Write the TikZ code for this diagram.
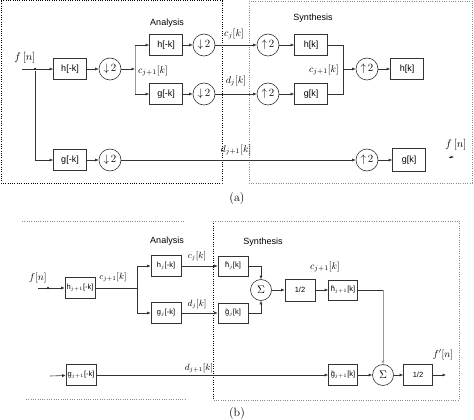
\documentclass[tikz,border=0pt]{standalone}
\usepackage{fontspec}
\newfontfamily\boxfont{Liberation Sans}
\usetikzlibrary{arrows.meta}
\begin{document}
\begin{tikzpicture}[x=1pt,y=-1pt,
 line width=0.6pt, draw=black!80,
 arr/.style={-{Latex[length=3.5pt,width=3pt]}},
 blk/.style={draw=black!80, minimum width=33pt, minimum height=21pt, inner sep=0pt, font=\boxfont\fontsize{9}{9}\selectfont},
 blkb/.style={blk, minimum width=30pt, font=\boxfont\fontsize{7.5}{7.5}\selectfont},
 crc/.style={draw=black!80, circle, minimum size=22pt, inner sep=0pt, font=\fontsize{11}{11}\selectfont},
 sumc/.style={crc, minimum size=21pt},
 lab/.style={font=\fontsize{10}{10}\selectfont, inner sep=1pt},
 labb/.style={font=\fontsize{9}{9}\selectfont, inner sep=1pt},
 ttl/.style={font=\boxfont\fontsize{9}{9}\selectfont},
 frA/.style={draw=black, line width=1pt, dash pattern=on 1pt off 1.3pt},
 frB/.style={draw=black!45, line width=0.8pt, dash pattern=on 1pt off 1.3pt},
 lite/.style={draw=black!40},
 jdot/.style={circle, fill=black, inner sep=0pt, minimum size=2.5pt}
]
\useasboundingbox (0,0) rectangle (474,420);

% ---------------- (a) ----------------
\draw[frA] (1,1) rectangle (222,183);
\draw[frB] (249,1) rectangle (472,183);
\node[ttl] (tA) at (167,23) {Analysis};
\node[ttl] (tS) at (313,18) {Synthesis};
\node[lab, font=\fontsize{11}{11}\selectfont] (fn) at (25,58) {$f\,[n]$};
\coordinate (in) at (22,69);
\node[jdot] (j1) at (35,69) {};
\node[blk] (hA1) at (70,69) {h[-k]};
\node[crc] (dA1) at (110,69) {$\downarrow$\,2};
\coordinate (br) at (135,69);
\coordinate (brT) at (135,45);
\coordinate (brB) at (135,94);
\node[lab] (cA) at (153,71) {$c_{j+1}[k]$};
\node[blk] (hA2) at (166,45) {h[-k]};
\node[blk] (gA2) at (166,94) {g[-k]};
\node[crc] (dA2) at (204,45) {$\downarrow$\,2};
\node[crc] (dA3) at (204,94) {$\downarrow$\,2};
\node[crc] (uS1) at (268,45) {$\uparrow$\,2};
\node[crc] (uS2) at (268,94) {$\uparrow$\,2};
\node[lab] (cj) at (234,34) {$c_j[k]$};
\node[lab] (dj) at (236,81) {$d_j[k]$};
\node[blk] (hS1) at (311,45) {h[k]};
\node[blk] (gS1) at (311,94) {g[k]};
\coordinate (jT) at (343,45);
\coordinate (jB) at (343,94);
\coordinate (jM) at (343,69);
\node[lab] (cS) at (324,70) {$c_{j+1}[k]$};
\node[crc] (uS3) at (367,69) {$\uparrow$\,2};
\node[blk] (hS2) at (407,69) {h[k]};
\node[blk] (gA1) at (70,160) {g[-k]};
\node[crc] (dA4) at (110,160) {$\downarrow$\,2};
\node[crc] (uS4) at (367,160) {$\uparrow$\,2};
\node[lab] (dJ1) at (236,150) {$d_{j+1}[k]$};
\node[blk, minimum height=23pt] (gS2) at (409,160) {g[k]};
\node[lab, font=\fontsize{11}{11}\selectfont] (fo) at (456,145) {$f\,[n]$};
\coordinate (foA) at (449,157);
\coordinate (foB) at (454,157);
\node[font=\fontsize{12}{12}\selectfont] (capA) at (237,199) {(a)};

\draw[arr] (in) -- (hA1);
\draw[arr] (j1) |- (gA1);
\draw[arr] (hA1) -- (dA1);
\draw[arr] (dA1) -- (br);
\draw[lite] (brT) -- (brB);
\draw[arr] (brT) -- (hA2);
\draw[arr] (brB) -- (gA2);
\draw[arr] (hA2) -- (dA2);
\draw[arr] (gA2) -- (dA3);
\draw[arr] (dA2) -- (uS1);
\draw[arr] (dA3) -- (uS2);
\draw[arr] (uS1) -- (hS1);
\draw[arr] (uS2) -- (gS1);
\draw (hS1.east) -- (jT) -- (jB) -- (gS1.east);
\draw[arr] (jM) -- (uS3);
\draw[arr] (uS3) -- (hS2);
\draw[arr] (gA1) -- (dA4);
\draw[arr] (dA4) -- (uS4);
\draw[arr] (uS4) -- (gS2);
\draw[arr, line width=0.4pt] (foA) -- (foB);

% ---------------- (b) ----------------
\draw[frB] (22,221) -- (185,221);
\draw[frB] (26,399) -- (185,399);
\draw[frA] (213,221) -- (213,400);
\draw[frB] (213,221) -- (459,221) -- (459,400) -- (213,400);
\node[ttl] (tAb) at (167,241) {Analysis};
\node[ttl] (tSb) at (263,242) {Synthesis};
\node[labb, font=\fontsize{10}{10}\selectfont] (fnb) at (38,278) {$f[n]$};
\coordinate (inb) at (38,288);
\node[jdot] (jb) at (48,288) {};
\node[blkb] (hB1) at (80,288) {h$_{j+1}$[-k]};
\coordinate (brb) at (137,288);
\coordinate (brbT) at (137,266);
\coordinate (brbB) at (137,313);
\node[labb] (cb) at (113,277) {$c_{j+1}[k]$};
\node[blkb] (hB2) at (166,266) {h$_j$[-k]};
\node[blkb] (gB2) at (166,313) {g$_j$[-k]};
\node[labb] (cjb) at (197,256) {$c_j[k]$};
\node[labb] (djb) at (197,304) {$d_j[k]$};
\node[blkb, minimum height=20pt] (hT1) at (233,266) {h^^^^0303$_j$[k]};
\node[blkb, minimum height=20pt] (gT1) at (233,313) {g^^^^0303$_j$[k]};
\node[sumc] (s1) at (261,290) {$\Sigma$};
\coordinate (s1T) at (261,266);
\coordinate (s1B) at (261,313);
\node[blkb, minimum height=22pt] (half1) at (300,290) {1/2};
\node[blkb, minimum width=29pt, minimum height=20pt] (hT2) at (343,290) {h^^^^0303$_{j+1}$[k]};
\node[labb, font=\fontsize{10}{10}\selectfont] (cjT) at (325,267) {$c_{j+1}[k]$};
\coordinate (s2T) at (383,290);
\node[sumc] (s2) at (383,375) {$\Sigma$};
\coordinate (inb2) at (50,376);
\node[blkb] (gB3) at (81,375) {g$_{j+1}$[-k]};
\node[labb] (djT) at (199,368) {$d_{j+1}[k]$};
\node[blkb, minimum width=29pt] (gT2) at (343,375) {g^^^^0303$_{j+1}$[k]};
\node[blkb, minimum width=29pt] (half2) at (418,375) {1/2};
\coordinate (outb) at (446,375);
\node[labb, font=\fontsize{10}{10}\selectfont] (fob) at (443,355) {$f'[n]$};
\node[font=\fontsize{12}{12}\selectfont] (capB) at (237,414) {(b)};

\draw[arr] (inb) -- (hB1);
\draw (hB1) -- (brb);
\draw (brbT) -- (brbB);
\draw[arr] (brbT) -- (hB2);
\draw[arr] (brbB) -- (gB2);
\draw[arr] (hB2) -- (hT1);
\draw[arr] (gB2) -- (gT1);
\draw[arr] (hT1.east) -- (s1T) -- (s1.north);
\draw[arr] (gT1.east) -- (s1B) -- (s1.south);
\draw[arr] (s1) -- (half1);
\draw[arr] (half1) -- (hT2);
\draw (hT2.east) -- (s2T);
\draw[arr, lite] (s2T) -- (s2.north);
\draw[arr] (inb2) -- (gB3);
\draw[arr] (gB3) -- (gT2);
\draw[arr] (gT2) -- (s2);
\draw[arr] (s2) -- (half2);
\draw[arr] (half2) -- (outb);
\end{tikzpicture}
\end{document}
